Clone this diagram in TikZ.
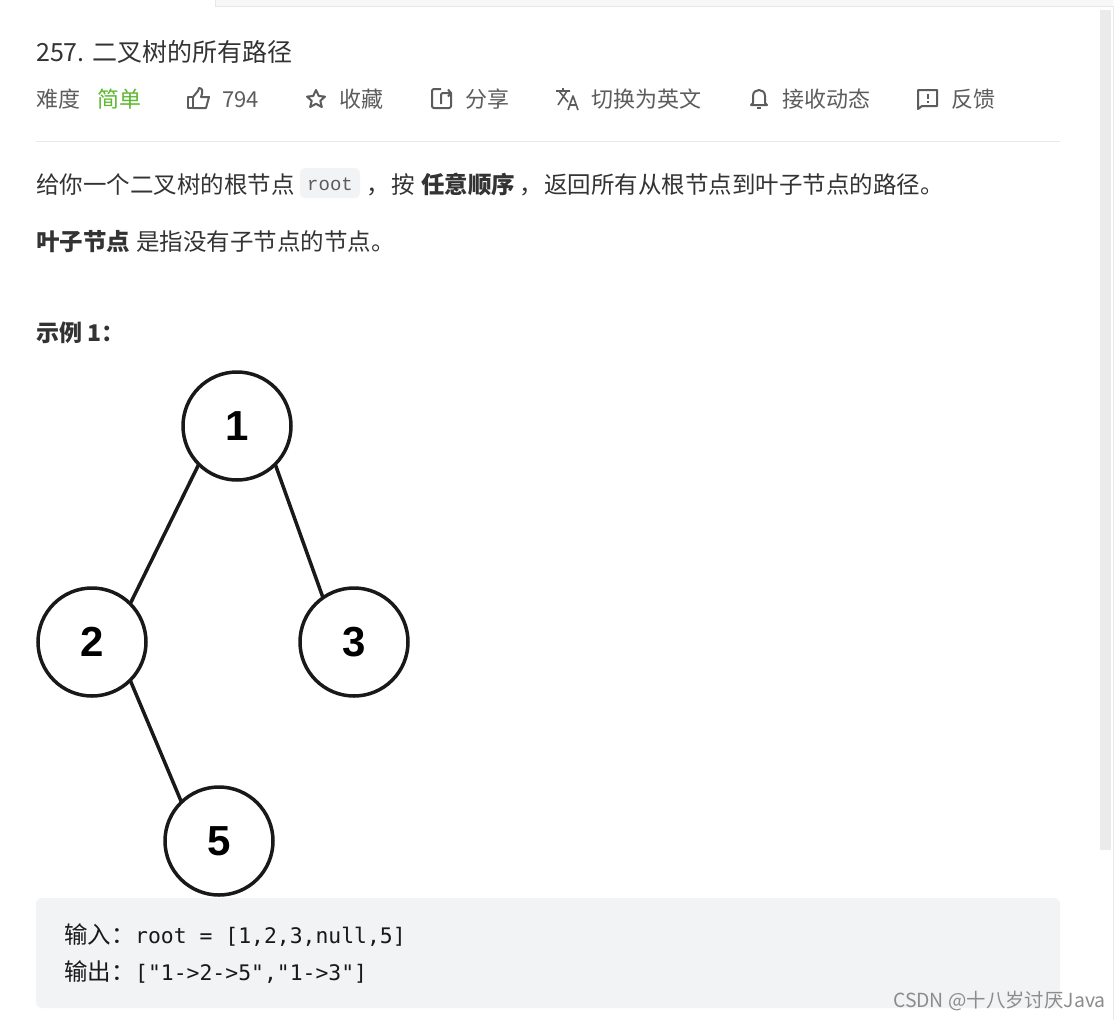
\documentclass[tikz,border=0pt]{standalone}
\usepackage{fontspec}
\setmainfont{Noto Sans CJK SC}
\newfontfamily\blockfont{DejaVu Sans Mono}
\newfontfamily\cjkblock{Noto Sans CJK SC}
\newfontfamily\rootfont{Liberation Mono}
\newfontfamily\numfont{Liberation Sans}
\definecolor{ink}{HTML}{333333}
\definecolor{metagray}{HTML}{5C5C5C}
\definecolor{easygreen}{HTML}{5CB82E}
\definecolor{blockgray}{HTML}{F2F3F5}
\definecolor{barbg}{HTML}{EBEBEB}
\definecolor{topbg}{HTML}{F7F7F7}
\definecolor{topline}{HTML}{E8E8E8}
\tikzset{
  treenode/.style={draw=black!90,circle,line width=3.5pt,minimum size=108pt,inner sep=0pt,outer sep=0pt,font=\numfont\bfseries\fontsize{42}{42}\selectfont},
  treeedge/.style={line width=3.5pt,black!90},
  titletxt/.style={anchor=base west,inner sep=0pt,font=\fontsize{25}{30}\selectfont,text=ink},
  metatxt/.style={anchor=base west,inner sep=0pt,font=\fontsize{22}{27}\selectfont,text=metagray},
  bodytxt/.style={anchor=base west,inner sep=0pt,font=\fontsize{23.5}{28}\selectfont,text=ink},
  codetxt/.style={anchor=base west,inner sep=0pt,text=black!90,font=\blockfont\fontsize{21.4}{26}\selectfont},
  icon/.style={draw=metagray,line width=2pt,line join=round}
}
\begin{document}
\begin{tikzpicture}[x=1pt,y=-1pt]
  \useasboundingbox (0,0) rectangle (1118,1020);
  \fill[white] (0,0) rectangle (1118,1020);
  \fill[topbg] (215,0) rectangle (1113,6);
  \draw[topline,line width=1pt] (215,0) -- (215,6.5) -- (1113,6.5) -- (1113,1020);
  \fill[barbg] (1100,10) rectangle (1111,850);
  \node[titletxt] (title) at (36,61) {257. 二叉树的所有路径};
  \node[metatxt] (hard) at (36,107.5) {难度};
  \node[metatxt,text=easygreen] (easy) at (97,107.5) {简单};
  \node[metatxt] (likes) at (222,107.5) {794};
  \node[metatxt] (star) at (339,107.5) {收藏};
  \node[metatxt] (share) at (465,107.5) {分享};
  \node[metatxt] (lang) at (591,107.5) {切换为英文};
  \node[metatxt] (bell) at (782,107.5) {接收动态};
  \node[metatxt] (back) at (951,107.5) {反馈};
  \draw[icon] (188,97) -- (193,97) -- (193,108) -- (188,108) -- cycle;
  \draw[icon] (193,97) -- (198,91) -- (199,88) .. controls (203,88) and (203,92) .. (201,97) -- (209,97) -- (206,108) -- (193,108);
  \draw[icon] (316,90) -- (318.8,96) -- (325,96.6) -- (320.3,100.8) -- (321.8,107) -- (316,103.8) -- (310.2,107) -- (311.7,100.8) -- (307,96.6) -- (313.2,96) -- cycle;
  \draw[icon,rounded corners=2pt] (441,89) -- (432,89) -- (432,108) -- (451,108) -- (451,93);
  \draw[icon,rounded corners=2pt] (441,104) -- (441,93) -- (451,93);
  \draw[icon] (448,89.5) -- (451,93) -- (448,96.5);
  \draw[icon,line width=1.6pt] (556,91) -- (570,91) (563,88) -- (563,91) (567,91) -- (558,105) (559,91) -- (568,102);
  \draw[icon,line width=1.6pt] (568,110) -- (573,96) -- (578,110) (570,105) -- (576,105);
  \draw[icon] (751,105) -- (753,103) -- (753,96) .. controls (753,88) and (765,88) .. (765,96) -- (765,103) -- (767,105) -- cycle;
  \draw[icon] (757,108) -- (761,108);
  \draw[icon] (918,90) -- (937,90) -- (937,106) -- (922,106) -- (918,109) -- cycle;
  \draw[icon] (928,94) -- (928,99) (928,101) -- (928,103);
  \draw[topline,line width=1pt] (36,141.5) -- (1060,141.5);
  \node[bodytxt] (ask) at (36,193) {给你一个二叉树的根节点};
  \node[fill=blockgray,rounded corners=5pt,minimum width=60pt,minimum height=30pt,inner sep=0pt,text height=15pt,text depth=0pt,text=metagray,font=\rootfont\fontsize{19}{24}\selectfont] (root) at (330,183) {root};
  \node[bodytxt] (commaA) at (366,193) {，};
  \node[bodytxt] (press) at (391,193) {按};
  \node[bodytxt,font=\bfseries\fontsize{23.5}{28}\selectfont] (order) at (421,193) {任意顺序};
  \node[bodytxt] (commaB) at (519,193) {，};
  \node[bodytxt] (ret) at (544,193) {返回所有从根节点到叶子节点的路径。};
  \node[bodytxt,font=\bfseries\fontsize{23.5}{28}\selectfont] (leaf) at (36,250) {叶子节点};
  \node[bodytxt] (means) at (136,250) {是指没有子节点的节点。};
  \node[bodytxt,font=\bfseries\fontsize{23}{28}\selectfont] (sample) at (36,341) {示例 1：};
  \node[treenode] (n1) at (237,426) {1};
  \node[treenode] (n2) at (92,642) {2};
  \node[treenode] (n3) at (354,642) {3};
  \node[treenode] (n5) at (219,841) {5};
  \draw[treeedge] (n1.225) -- (n2.45);
  \draw[treeedge] (n1.315) -- (n3.125);
  \draw[treeedge] (n2.315) -- (n5.134);
  \fill[blockgray,rounded corners=6pt] (36,898) rectangle (1060,1008);
  \node[codetxt,font=\cjkblock\fontsize{23.5}{28}\selectfont] (inlab) at (64,943) {输入：};
  \node[codetxt] (incode) at (135,943) {root = [1,2,3,null,5]};
  \node[codetxt,font=\cjkblock\fontsize{23.5}{28}\selectfont] (outlab) at (64,980) {输出：};
  \node[codetxt] (outcode) at (135,980) {["1->2->5","1->3"]};
  \node[anchor=base west,inner sep=0pt,text=black!45,font=\fontsize{19.4}{23}\selectfont] (mark) at (893,1007) {CSDN @十八岁讨厌Java};
\end{tikzpicture}
\end{document}
